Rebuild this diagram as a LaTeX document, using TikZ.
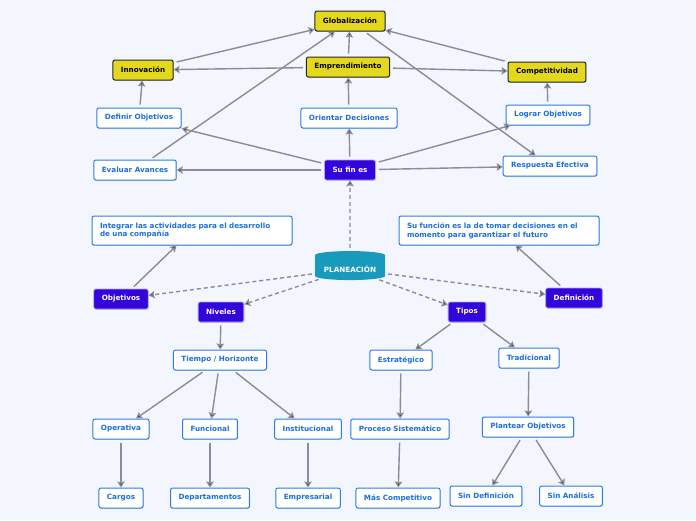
\documentclass[tikz,border=0pt]{standalone}
\usepackage{fontspec}
\setmainfont{DejaVu Sans}
\usetikzlibrary{positioning,shapes.geometric,arrows.meta,shadows}
\definecolor{bgcol}{RGB}{243,246,254}
\definecolor{txtblue}{RGB}{28,110,222}
\definecolor{boxline}{RGB}{45,125,230}
\definecolor{yel}{RGB}{228,216,30}
\definecolor{finblue}{RGB}{50,5,220}
\definecolor{keyline}{RGB}{175,165,240}
\definecolor{coreteal}{RGB}{24,154,188}
\definecolor{linegray}{RGB}{140,140,146}

\begin{document}
\begin{tikzpicture}
[x=1pt,y=-1pt,font=\fontsize{7.2}{8.8}\selectfont\bfseries,
 every node/.style={rectangle,rounded corners=2pt,minimum height=20pt,inner xsep=8pt,inner ysep=2pt},
 leaf/.style={draw=boxline,line width=1pt,fill=white,text=txtblue,
   drop shadow={shadow xshift=0.6pt,shadow yshift=-0.9pt,opacity=0.25}},
 note/.style={text width=184pt,align=left,minimum height=29pt},
 gold/.style={draw=black!85,line width=1pt,fill=yel,text=black,
   drop shadow={shadow xshift=0.6pt,shadow yshift=-0.9pt,opacity=0.25}},
 key/.style={draw=keyline,line width=0.8pt,fill=finblue,text=white,
   drop shadow={shadow xshift=0.6pt,shadow yshift=-0.9pt,opacity=0.25}},
 core/.style={cylinder,shape border rotate=90,aspect=0.12,sharp corners,fill=coreteal,
   text=white,minimum width=70pt,minimum height=29pt},
 link/.style={draw=linegray,line width=1.4pt,-{Stealth[length=6pt,width=7.5pt,inset=1pt]},shorten <=3pt},
 dlink/.style={link,dash pattern=on 4pt off 3pt}]
   \path[use as bounding box,fill=bgcol] (0,0) rectangle (696,520);
   % top level
   \node[gold] (g_0) at (350,21) {Globalización};
   \node[gold] (g_1) at (143,70) {Innovación};
   \node[gold] (g_2) at (348,67) {Emprendimiento};
   \node[gold] (g_3) at (547,72) {Competitividad};
   \node[leaf] (f_1) at (139,118) {Definir Objetivos};
   \node[leaf] (f_2) at (349,118) {Orientar Decisiones};
   \node[leaf] (f_3) at (548,115) {Lograr Objetivos};
   \node[leaf] (f_4) at (135,170) {Evaluar Avances};
   \node[key]  (f_0) at (350,170) {Su fin es};
   \node[leaf] (f_5) at (550,166) {Respuesta Efectiva};
   % middle
   \node[leaf,note] (o_1) at (192,230.5) {Integrar las actividades para el desarrollo\\de una compañía};
   \node[leaf,note] (d_1) at (499,230.5) {Su función es la de tomar decisiones en el\\momento para garantizar el futuro};
   \node[core] (p_0) at (350,269) {PLANEACIÓN};
   \node[key] (o_0) at (121,299) {Objetivos};
   \node[key] (d_0) at (574,298) {Definición};
   \node[key] (n_0) at (221,312) {Niveles};
   \node[key] (t_0) at (467,312) {Tipos};
   % bottom
   \node[leaf] (n_1) at (220,360) {Tiempo / Horizonte};
   \node[leaf] (t_1) at (401,360) {Estratégico};
   \node[leaf] (t_2) at (529,358) {Tradicional};
   \node[leaf] (n_2) at (121,429) {Operativa};
   \node[leaf] (n_3) at (210,429) {Funcional};
   \node[leaf] (n_4) at (308,429) {Institucional};
   \node[leaf] (t_3) at (400,429) {Proceso Sistemático};
   \node[leaf] (t_4) at (528,427) {Plantear Objetivos};
   \node[leaf] (n_5) at (121,498) {Cargos};
   \node[leaf] (n_6) at (210,498) {Departamentos};
   \node[leaf] (n_7) at (308,498) {Empresarial};
   \node[leaf] (t_5) at (398,498) {Más Competitivo};
   \node[leaf] (t_6) at (486,496) {Sin Definición};
   \node[leaf] (t_7) at (571,496) {Sin Análisis};
    \path[link]
    (g_1) edge (g_0)
    (g_2) edge (g_0)
    (g_3) edge (g_0)
    (g_2) edge (g_1)
    (g_2) edge (g_3)
    (f_1) edge (g_1)
    (f_2) edge (g_2)
    (f_3) edge (g_3)
    (f_4) edge (g_0)
    (g_0) edge (f_5)
    (f_0) edge (f_1)
    (f_0) edge (f_2)
    (f_0) edge (f_3)
    (f_0) edge (f_4)
    (f_0) edge (f_5)
    (o_0) edge (o_1)
    (d_0) edge (d_1)
    (n_0) edge (n_1)
    (n_1) edge (n_2)
    (n_1) edge (n_3)
    (n_1) edge (n_4)
    (n_2) edge (n_5)
    (n_3) edge (n_6)
    (n_4) edge (n_7)
    (t_0) edge (t_1)
    (t_0) edge (t_2)
    (t_1) edge (t_3)
    (t_3) edge (t_5)
    (t_2) edge (t_4)
    (t_4) edge (t_6)
    (t_4) edge (t_7);
    \path[dlink]
    (p_0) edge (f_0)
    (p_0) edge (o_0)
    (p_0) edge (n_0)
    (p_0) edge (t_0)
    (p_0) edge (d_0);

\end{tikzpicture}
\end{document}
